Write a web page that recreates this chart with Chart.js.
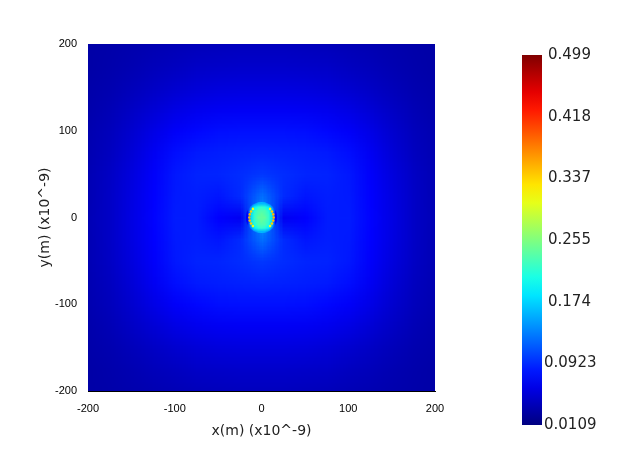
<!DOCTYPE html>
<html><head><meta charset="utf-8">
<script src="https://cdn.jsdelivr.net/npm/chart.js@4"></script>
<style>body{margin:0;background:#fff}#wrap{width:626px;height:465px}</style>
</head><body><div id="wrap"><canvas id="c"></canvas></div>
<script>
const vmin = 0.0109, vmax = 0.499;
const barTicks = ['0.499', '0.418', '0.337', '0.255', '0.174', '0.0923', '0.0109'];
// coarse field, x = -200..200 step 25, rows y = 200 .. -200
const gridX = [-200,-175,-150,-125,-100,-75,-50,-25,0,25,50,75,100,125,150,175,200];
const field = [
 [.030,.031,.033,.035,.037,.039,.040,.041,.041,.041,.040,.039,.037,.035,.033,.031,.030],
 [.030,.032,.035,.039,.042,.045,.046,.047,.047,.047,.046,.045,.042,.039,.035,.032,.030],
 [.031,.034,.039,.044,.049,.053,.055,.056,.056,.056,.055,.053,.049,.044,.039,.034,.031],
 [.032,.037,.044,.052,.059,.064,.066,.067,.067,.067,.066,.064,.059,.052,.044,.037,.032],
 [.034,.040,.049,.060,.069,.075,.078,.079,.079,.079,.078,.075,.069,.060,.049,.040,.034],
 [.035,.042,.053,.066,.078,.084,.086,.087,.088,.087,.086,.084,.078,.066,.053,.042,.035],
 [.036,.044,.056,.070,.083,.088,.089,.093,.098,.093,.089,.088,.083,.070,.056,.044,.036],
 [.036,.045,.058,.072,.084,.086,.082,.092,.125,.092,.082,.086,.084,.072,.058,.045,.036],
 [.037,.045,.059,.073,.085,.085,.072,.066,.150,.066,.072,.085,.085,.073,.059,.045,.037],
 [.036,.045,.058,.072,.084,.086,.082,.092,.125,.092,.082,.086,.084,.072,.058,.045,.036],
 [.036,.044,.056,.070,.083,.088,.089,.093,.098,.093,.089,.088,.083,.070,.056,.044,.036],
 [.035,.042,.053,.066,.078,.084,.086,.087,.088,.087,.086,.084,.078,.066,.053,.042,.035],
 [.034,.040,.049,.060,.069,.075,.078,.079,.079,.079,.078,.075,.069,.060,.049,.040,.034],
 [.032,.037,.044,.052,.059,.064,.066,.067,.067,.067,.066,.064,.059,.052,.044,.037,.032],
 [.031,.034,.039,.044,.049,.053,.055,.056,.056,.056,.055,.053,.049,.044,.039,.034,.031],
 [.030,.032,.035,.039,.042,.045,.046,.047,.047,.047,.046,.045,.042,.039,.035,.032,.030],
 [.030,.031,.033,.035,.037,.039,.040,.041,.041,.041,.040,.039,.037,.035,.033,.031,.030]
];
// fine field near particle, x = -16..16 step 4, rows y = 16 .. -16
const coreX = [-16,-12,-8,-4,0,4,8,12,16];
const core = [
 [.10,.12,.14,.16,.16,.16,.14,.12,.10],
 [.09,.14,.19,.21,.22,.21,.19,.14,.09],
 [.08,.17,.21,.23,.23,.23,.21,.17,.08],
 [.07,.18,.22,.23,.24,.23,.22,.18,.07],
 [.07,.18,.22,.24,.24,.24,.22,.18,.07],
 [.07,.18,.22,.23,.24,.23,.22,.18,.07],
 [.08,.17,.21,.23,.23,.23,.21,.17,.08],
 [.09,.14,.19,.21,.22,.21,.19,.14,.09],
 [.10,.12,.14,.16,.16,.16,.14,.12,.10]
];
// bright rim on the left and right of the particle
const rimX = [-14,-13.5,-13.5,-12.1,-12.1,-9.9,-9.9,14,13.5,13.5,12.1,12.1,9.9,9.9];
const rimY = [0,3.6,-3.6,7,-7,9.9,-9.9,0,3.6,-3.6,7,-7,9.9,-9.9];
const rimV = [0.35,0.35,0.35,0.34,0.34,0.31,0.31,0.35,0.35,0.35,0.34,0.34,0.31,0.31];

function jet(v) {
  const t = Math.min(1, Math.max(0, (v - vmin) / (vmax - vmin)));
  const f = c => Math.round(255 * Math.min(1, Math.max(0, 1.5 - Math.abs(4 * t - c))));
  return [f(3), f(2), f(1)];
}
function toImage(grid) {
  const n = grid.length, m = grid[0].length;
  const cv = document.createElement('canvas');
  cv.width = m; cv.height = n;
  const cx = cv.getContext('2d');
  const img = cx.createImageData(m, n);
  grid.forEach((row, j) => row.forEach((v, i) => {
    const [r, g, b] = jet(v), k = 4 * (j * m + i);
    img.data[k] = r; img.data[k+1] = g; img.data[k+2] = b; img.data[k+3] = 255;
  }));
  cx.putImageData(img, 0, 0);
  return cv;
}
const fieldImg = toImage(field), coreImg = toImage(core);

const heat = {
  id: 'heat',
  beforeDatasetsDraw(chart) {
    const {ctx, chartArea: a, scales: {x, y}} = chart;
    ctx.save();
    ctx.beginPath(); ctx.rect(a.left, a.top, a.right - a.left, a.bottom - a.top); ctx.clip();
    ctx.imageSmoothingEnabled = true;
    const put = (im, xs, half) => {
      const x0 = x.getPixelForValue(xs[0] - half), x1 = x.getPixelForValue(xs[xs.length-1] + half);
      const y0 = y.getPixelForValue(xs[xs.length-1] + half), y1 = y.getPixelForValue(xs[0] - half);
      ctx.drawImage(im, x0, y0, x1 - x0, y1 - y0);
    };
    put(fieldImg, gridX, 12.5);
    ctx.save();
    ctx.beginPath();
    ctx.arc(x.getPixelForValue(0), y.getPixelForValue(0), x.getPixelForValue(18) - x.getPixelForValue(0), 0, 2 * Math.PI);
    ctx.clip();
    put(coreImg, coreX, 2);
    ctx.restore();
    ctx.restore();
    // axis titles
    ctx.save();
    ctx.fillStyle = '#222'; ctx.font = '14px "DejaVu Sans"';
    ctx.textAlign = 'center'; ctx.textBaseline = 'middle';
    ctx.fillText('x(m) (x10^-9)', (a.left + a.right) / 2, 431);
    ctx.translate(45, (a.top + a.bottom) / 2); ctx.rotate(-Math.PI / 2);
    ctx.fillText('y(m) (x10^-9)', 0, 0);
    ctx.restore();
    // colour bar
    const bx = 522, bw = 20, by = 55, bh = 370;
    const g = ctx.createLinearGradient(0, by + bh, 0, by);
    for (let i = 0; i <= 20; i++) {
      const [r, gg, b] = jet(vmin + (vmax - vmin) * i / 20);
      g.addColorStop(i / 20, `rgb(${r},${gg},${b})`);
    }
    ctx.save();
    ctx.fillStyle = g; ctx.fillRect(bx, by, bw, bh);
    ctx.fillStyle = '#222'; ctx.font = '15px "DejaVu Sans"'; ctx.textBaseline = 'middle';
    barTicks.forEach((t, i) => {
      const ty = by + bh * i / (barTicks.length - 1);
      ctx.fillText(t, t.length > 5 ? 544 : 548, ty);
    });
    ctx.restore();
  }
};

new Chart(document.getElementById('c'), {
  type: 'scatter',
  data: { datasets: [{
    data: rimX.map((v, i) => ({x: v, y: rimY[i]})),
    pointRadius: 1.3, pointBorderWidth: 0,
    pointBackgroundColor: rimV.map(v => { const [r, g, b] = jet(v); return `rgb(${r},${g},${b})`; })
  }]},
  options: {
    responsive: true, maintainAspectRatio: false, animation: false,
    layout: { padding: { top: 44, right: 191, left: 0, bottom: 0 } },
    plugins: { legend: { display: false }, tooltip: { enabled: false } },
    scales: {
      x: { min: -200, max: 200, ticks: { stepSize: 100, color: '#000', font: { size: 11 }, maxRotation: 0 },
           grid: { display: false }, border: { color: '#000' },
           afterFit: s => { s.height = 74; } },
      y: { min: -200, max: 200, ticks: { stepSize: 100, color: '#000', font: { size: 11 } },
           grid: { display: false }, border: { color: '#000' },
           afterFit: s => { s.width = 88; } }
    }
  },
  plugins: [heat]
});
</script></body></html>
